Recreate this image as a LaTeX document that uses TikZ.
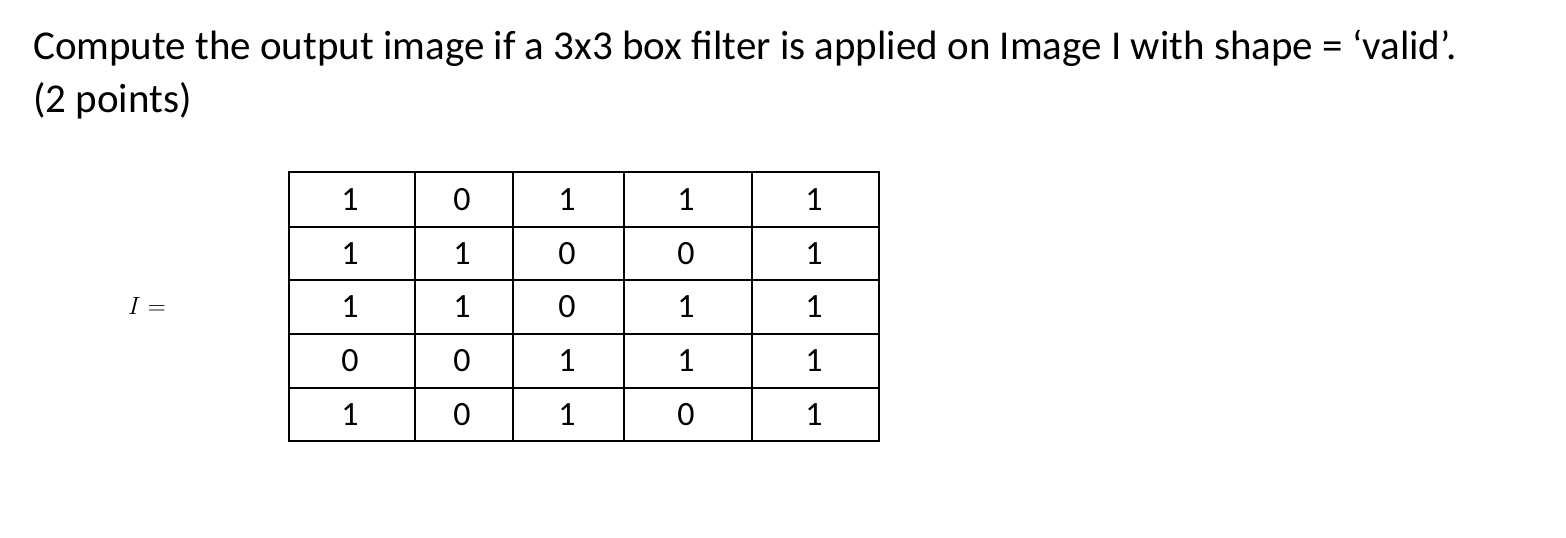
\documentclass[tikz,border=0pt]{standalone}
\usepackage{fontspec}
\setmainfont{Carlito}
\begin{document}
\begin{tikzpicture}[x=1pt,y=-1pt,
  cellv/.style={font=\fontsize{34}{40}\selectfont, anchor=center, inner sep=0pt}]
\useasboundingbox (0,0) rectangle (1566,538);
\node[anchor=west, font=\fontsize{41}{48}\selectfont, inner sep=0pt] (t1) at (33,48) {Compute the output image if a 3x3 box filter is applied on Image I with shape = ‘valid’.};
\node[anchor=west, font=\fontsize{41}{48}\selectfont, inner sep=0pt] (t2) at (33,101) {(2 points)};
\node[font=\fontsize{55}{60}\selectfont, inner sep=0pt] (lbl) at (147,306) {$I=$};
\draw[line width=1.6pt] (289,172) rectangle (879,441);
\foreach \x in {415,513,624,752} \draw[line width=1.6pt] (\x,172) -- (\x,441);
\foreach \y in {227,280,334,388} \draw[line width=1.6pt] (289,\y) -- (879,\y);
\foreach \cy/\a/\b/\c/\d/\e [count=\r] in {200/1/0/1/1/1, 254/1/1/0/0/1, 307/1/1/0/1/1, 361/0/0/1/1/1, 415/1/0/1/0/1}{
  \node[cellv] (c\r a) at (350,\cy) {\a};
  \node[cellv] (c\r b) at (462,\cy) {\b};
  \node[cellv] (c\r c) at (567,\cy) {\c};
  \node[cellv] (c\r d) at (686,\cy) {\d};
  \node[cellv] (c\r e) at (814,\cy) {\e};
}
\end{tikzpicture}
\end{document}
